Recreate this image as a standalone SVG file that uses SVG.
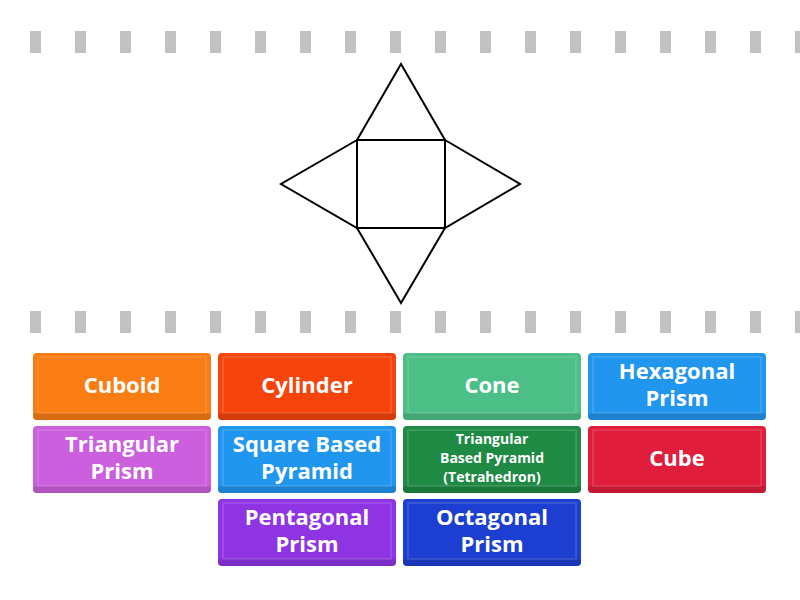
<svg xmlns="http://www.w3.org/2000/svg" width="800" height="600" viewBox="0 0 800 600">
<defs>
<pattern id="dash" x="30" y="0" width="45" height="600" patternUnits="userSpaceOnUse">
<rect x="0" y="0" width="11" height="600" fill="#c2c2c2"/>
</pattern>
</defs>
<style>
.t{font-family:"Open Sans","Noto Sans",sans-serif;font-weight:bold;fill:#fff;text-anchor:middle;font-size:22px}
.s{font-size:14px}
.sh{fill:#000;opacity:0.13}
.hl{fill:none;stroke:#fff;stroke-opacity:0.12;stroke-width:2}
</style>
<rect width="800" height="600" fill="#fff"/>
<rect x="30" y="31" width="770" height="22" fill="url(#dash)"/>
<rect x="30" y="311" width="770" height="22" fill="url(#dash)"/>
<g id="net" fill="none" stroke="#000" stroke-width="2" stroke-linejoin="miter">
<rect x="357" y="140" width="88" height="88"/>
<polygon points="357,140 401,64 445,140"/>
<polygon points="357,228 401,303 445,228"/>
<polygon points="357,140 281,184 357,228"/>
<polygon points="445,140 520,184 445,228"/>
</g>
<g id="b1"><rect x="33" y="353" width="178" height="67" rx="4" fill="#fa7d13"/><rect x="33" y="413" width="178" height="7" rx="3" class="sh"/><rect x="38" y="357" width="168" height="56" class="hl"/><text x="122" y="393" class="t">Cuboid</text></g>
<g id="b2"><rect x="218" y="353" width="178" height="67" rx="4" fill="#f5440c"/><rect x="218" y="413" width="178" height="7" rx="3" class="sh"/><rect x="223" y="357" width="168" height="56" class="hl"/><text x="307" y="393" class="t">Cylinder</text></g>
<g id="b3"><rect x="403" y="353" width="178" height="67" rx="4" fill="#4cbf87"/><rect x="403" y="413" width="178" height="7" rx="3" class="sh"/><rect x="408" y="357" width="168" height="56" class="hl"/><text x="492" y="393" class="t">Cone</text></g>
<g id="b4"><rect x="588" y="353" width="178" height="67" rx="4" fill="#2196ee"/><rect x="588" y="413" width="178" height="7" rx="3" class="sh"/><rect x="593" y="357" width="168" height="56" class="hl"/><text x="677" y="379" class="t">Hexagonal</text><text x="677" y="406" class="t">Prism</text></g>
<g id="b5"><rect x="33" y="426" width="178" height="67" rx="4" fill="#cc5fdd"/><rect x="33" y="486" width="178" height="7" rx="3" class="sh"/><rect x="38" y="430" width="168" height="56" class="hl"/><text x="122" y="452" class="t">Triangular</text><text x="122" y="479" class="t">Prism</text></g>
<g id="b6"><rect x="218" y="426" width="178" height="67" rx="4" fill="#2196ee"/><rect x="218" y="486" width="178" height="7" rx="3" class="sh"/><rect x="223" y="430" width="168" height="56" class="hl"/><text x="307" y="452" class="t">Square Based</text><text x="307" y="479" class="t">Pyramid</text></g>
<g id="b7"><rect x="403" y="426" width="178" height="67" rx="4" fill="#1e8a44"/><rect x="403" y="486" width="178" height="7" rx="3" class="sh"/><rect x="408" y="430" width="168" height="56" class="hl"/><text x="492" y="444" class="t s">Triangular</text><text x="492" y="463" class="t s">Based Pyramid</text><text x="492" y="482" class="t s">(Tetrahedron)</text></g>
<g id="b8"><rect x="588" y="426" width="178" height="67" rx="4" fill="#e01d3a"/><rect x="588" y="486" width="178" height="7" rx="3" class="sh"/><rect x="593" y="430" width="168" height="56" class="hl"/><text x="677" y="466" class="t">Cube</text></g>
<g id="b9"><rect x="218" y="499" width="178" height="67" rx="4" fill="#8f34e3"/><rect x="218" y="559" width="178" height="7" rx="3" class="sh"/><rect x="223" y="503" width="168" height="56" class="hl"/><text x="307" y="525" class="t">Pentagonal</text><text x="307" y="552" class="t">Prism</text></g>
<g id="b10"><rect x="403" y="499" width="178" height="67" rx="4" fill="#1c3fd1"/><rect x="403" y="559" width="178" height="7" rx="3" class="sh"/><rect x="408" y="503" width="168" height="56" class="hl"/><text x="492" y="525" class="t">Octagonal</text><text x="492" y="552" class="t">Prism</text></g>
<g id="connectors"/>
</svg>
